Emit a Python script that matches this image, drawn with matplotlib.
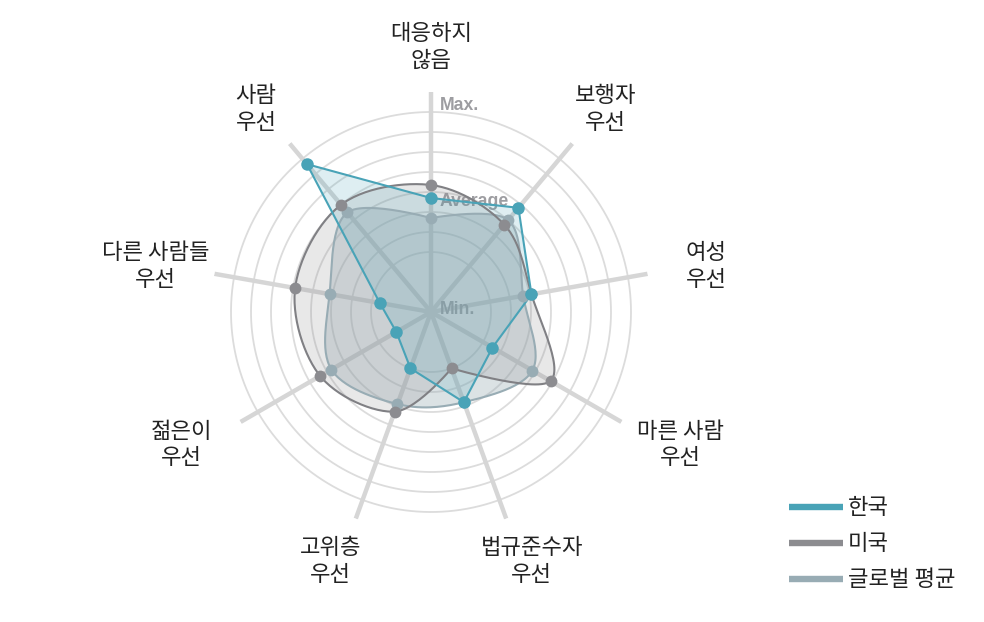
import numpy as np
import matplotlib
matplotlib.use('Agg')
import matplotlib.pyplot as plt
from matplotlib.lines import Line2D

plt.rcParams['font.family'] = ['Noto Sans CJK KR', 'DejaVu Sans']

# ---- data ----
categories = ['대응하지\n않음', '보행자\n우선', '여성\n우선', '마른 사람\n우선',
              '법규준수자\n우선', '고위층\n우선', '젊은이\n우선', '다른 사람들\n우선',
              '사람\n우선']
korea = [0.57, 0.68, 0.51, 0.355, 0.48, 0.30, 0.20, 0.26, 0.965]
usa = [0.635, 0.57, 0.51, 0.69, 0.30, 0.53, 0.64, 0.69, 0.70]
global_avg = [0.47, 0.60, 0.468, 0.585, 0.48, 0.49, 0.575, 0.515, 0.65]
series_names = ['한국', '미국', '글로벌 평균']
scale_labels = ['Min.', 'Average', 'Max.']
scale_values = [0.0, 0.5, 1.0]

C_KR = '#49a3b7'
C_US = '#8c8c90'
C_GL = '#98acb4'

W, H = 984, 622
fig = plt.figure(figsize=(W / 100, H / 100), dpi=100)
cx, cy, R = 431, 312, 220  # pixel centre and axes radius
PX = 200.0                 # pixels per unit value
ax = fig.add_axes([(cx - R) / W, (H - cy - R) / H, 2 * R / W, 2 * R / H],
                  projection='polar')
ax.set_theta_zero_location('N')
ax.set_theta_direction(-1)
ax.set_ylim(0, R / PX)
ax.set_axis_off()

n = len(categories)
theta = np.arange(n) * 2 * np.pi / n

# grid circles
tt = np.linspace(0, 2 * np.pi, 400)
for rr in np.arange(0.3, 1.001, 0.1):
    ax.plot(tt, np.full_like(tt, rr), color='#dcdcdc', lw=1.3, zorder=1)
# spokes
for t in theta:
    ax.plot([t, t], [0, R / PX], color='#d6d6d6', lw=3.2, solid_capstyle='butt', zorder=1.5)

# scale labels
for lab, v, dy in zip(scale_labels, scale_values, [0.015, 0.05, 0.035]):
    ax.annotate(lab, xy=(0, v + dy), xytext=(6.5, 0), textcoords='offset points',
                ha='left', va='center', fontsize=12.7, fontweight='bold',
                color='#9d9da1', family=['Liberation Sans', 'DejaVu Sans'], zorder=2,
                annotation_clip=False)


def smooth_closed(th, r, steps=30):
    """Closed Catmull-Rom curve; concave vertices keep a sharp corner."""
    th = np.asarray(th, float); r = np.asarray(r, float)
    P = np.column_stack([r * np.sin(th), r * np.cos(th)])
    N = len(P)
    tang = np.zeros_like(P)
    for i in range(N):
        p0, p1, p2 = P[i - 1], P[i], P[(i + 1) % N]
        d = p2 - p0
        s_pt = d[0] * (p1 - p0)[1] - d[1] * (p1 - p0)[0]
        s_c = d[0] * (-p0)[1] - d[1] * (-p0)[0]
        convex = s_pt * s_c < 0
        tang[i] = d / 6 if convex else 0
    out = []
    t = np.linspace(0, 1, steps, endpoint=False)[:, None]
    for i in range(N):
        p1, p2 = P[i], P[(i + 1) % N]
        c1 = p1 + tang[i]
        c2 = p2 - tang[(i + 1) % N]
        seg = ((1 - t) ** 3) * p1 + 3 * ((1 - t) ** 2) * t * c1 + 3 * (1 - t) * t ** 2 * c2 + t ** 3 * p2
        out.append(seg)
    out.append(P[:1])
    Q = np.vstack(out)
    return np.arctan2(Q[:, 0], Q[:, 1]), np.hypot(Q[:, 0], Q[:, 1])


# global average
gt, gr = smooth_closed(theta, global_avg)
ax.fill(gt, gr, color=C_GL, alpha=0.35, lw=0, zorder=3)
ax.plot(gt, gr, color=C_GL, lw=1.5, zorder=3.1)
ax.plot(theta, global_avg, 'o', color=C_GL, ms=8.5, mec='none', zorder=5)

# usa
ut, ur = smooth_closed(theta, usa)
ax.fill(ut, ur, color=C_US, alpha=0.2, lw=0, zorder=3)
ax.plot(ut, ur, color='#808084', lw=1.5, zorder=3.2)
ax.plot(theta, usa, 'o', color=C_US, ms=8.5, mec='none', zorder=5.1)

# korea (linear)
kt = np.append(theta, theta[0]); kr = np.append(korea, korea[0])
ax.fill(kt, kr, color=C_KR, alpha=0.18, lw=0, zorder=3)
ax.plot(kt, kr, color=C_KR, lw=1.5, zorder=3.3)
ax.plot(theta, korea, 'o', color=C_KR, ms=9, mec='none', zorder=5.2)

# category labels on a slightly elliptical ring
for t, lab in zip(theta, categories):
    lx = (282 - 13 * np.cos(t)) * np.sin(t)
    ly = 265 * np.cos(t)
    ax.text(np.arctan2(lx, ly), np.hypot(lx, ly) / PX, lab, ha='center', va='center',
            fontsize=16, linespacing=1.17, color='#222222', clip_on=False)

# legend
for i, (name, col) in enumerate(zip(series_names, [C_KR, C_US, C_GL])):
    y = 1 - (507 + i * 36) / H
    fig.add_artist(Line2D([789 / W, 843 / W], [y, y], color=col, lw=4.6,
                          solid_capstyle='butt', transform=fig.transFigure))
    fig.text(848 / W, y, name, ha='left', va='center', fontsize=16, color='#222222')

fig.savefig('out.png', dpi=100)
